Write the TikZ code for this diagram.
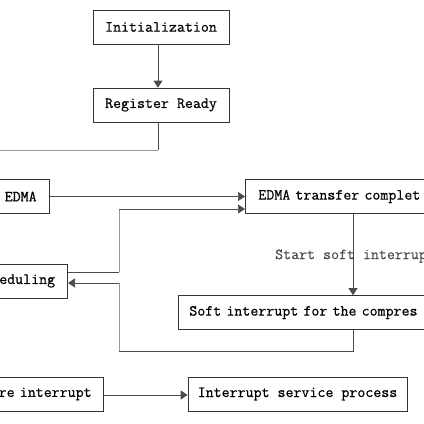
\documentclass[tikz,border=0pt]{standalone}
\usepackage{fontspec}
\newfontfamily\diagfont{Latin Modern Mono}[FakeBold=0.6]
\newfontfamily\lblfont{Latin Modern Mono}[FakeBold=0.2]
\usetikzlibrary{arrows.meta}
\tikzset{
  box/.style={draw=black!80, line width=0.7pt, minimum height=34pt, inner ysep=0pt, font=\diagfont\fontsize{15.5}{17}\selectfont},
  lbl/.style={inner sep=0pt, font=\lblfont\fontsize{15.5}{17}\selectfont, text=black!70},
  conn/.style={draw=black!70, line width=0.7pt},
  grayconn/.style={draw=black!40, line width=0.9pt},
  arr/.style={-{Triangle[length=7pt,width=9pt]}}
}
\begin{document}
\begin{tikzpicture}[x=1pt,y=-1pt]
\useasboundingbox (0,0) rectangle (424,424);
\clip (0,0) rectangle (424,424);
\coordinate (vx) at (353,0);
\coordinate (lx) at (119,0);
% boxes
\node[box, minimum width=136pt] (init) at (161,27) {Initialization};
\node[box, minimum width=136pt] (reg) at (161,105) {Register Ready};
\node[box, anchor=east, text width=100pt, align=right, inner xsep=13pt] (edma) at (50,196.5) {EDMA};
\node[box, anchor=west, text width=220pt, align=left, inner xsep=13pt] (edmat) at (245,196.5) {EDMA transfer complet};
\node[box, anchor=east, text width=100pt, align=right, inner xsep=12.5pt] (sched) at (68,281) {eduling};
\node[box, anchor=west, text width=260pt, align=left, inner xsep=11pt] (soft) at (178,312.5) {Soft interrupt for the compres};
\node[box, anchor=east, text width=120pt, align=right, inner xsep=12pt] (hwi) at (104,394) {re interrupt};
\node[box, minimum width=219pt] (isr) at (297.5,394) {Interrupt service process};
\node[lbl, anchor=west] (start) at (275,256) {Start soft interrup};
\coordinate (regend) at (-5,150);
% connectors
\draw[conn, arr] (init.south -| 158,0) -- (reg.north -| 158,0);
\draw[conn] (reg.south -| 158,0) -- (158,150);
\draw[grayconn] (158,150) -- (regend);
\draw[conn, arr] (edma.east) -- (edmat.west);
\draw[conn] ([yshift=9pt]sched.east) -- ([yshift=9pt]sched.east -| lx);
\draw[grayconn] ([yshift=9pt]sched.east -| lx) -- ([yshift=-12.5pt]edmat.west -| lx);
\draw[conn, arr] ([yshift=-12.5pt]edmat.west -| lx) -- ([yshift=-12.5pt]edmat.west);
\draw[conn, arr] (edmat.south -| vx) -- (soft.north -| vx);
\draw[conn] (soft.south -| vx) -- (353,351) -- (119,351);
\draw[grayconn] (119,351) -- ([yshift=-2pt]sched.east -| lx);
\draw[conn, arr] ([yshift=-2pt]sched.east -| lx) -- ([yshift=-2pt]sched.east);
\draw[conn, arr] (hwi.east |- 0,395) -- (isr.west |- 0,395);
\end{tikzpicture}
\end{document}
